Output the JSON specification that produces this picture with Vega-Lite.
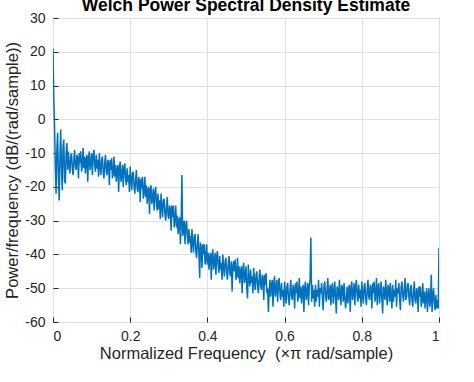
{
 "$schema": "https://vega.github.io/schema/vega-lite/v6.json",
 "width": 386, "height": 304,
 "autosize": "none",
 "padding": {"left": 53, "top": 18, "right": 35, "bottom": 60},
 "background": "white",
 "title": {"text": "Welch Power Spectral Density Estimate", "font": "Liberation Sans", "fontSize": 17.5, "fontWeight": "bold", "color": "#000000", "anchor": "middle", "offset": 7, "dy": 10},
 "config": {
  "view": {"stroke": "#262626", "strokeWidth": 1},
  "axis": {"domain": false, "grid": true, "gridColor": "#dfdfdf", "tickColor": "#262626", "tickSize": -5, "labelFont": "Liberation Sans", "labelFontSize": 14, "labelColor": "#262626", "titleFont": "Liberation Sans", "titleFontSize": 16.5, "titleFontWeight": "normal", "titleColor": "#262626"}
 },
 "data": {"values": [
  {"f":0,"p":21},{"f":0.002,"p":6.5},
  {"f":0.004,"p":-2},{"f":0.006,"p":-14},{"f":0.008,"p":-22},{"f":0.01,"p":-9},{"f":0.012,"p":-4},{"f":0.014,"p":-17},{"f":0.016,"p":-24},{"f":0.018,"p":-11},{"f":0.02,"p":-3},{"f":0.022,"p":-15},{"f":0.024,"p":-21},{"f":0.026,"p":-8},{"f":0.028,"p":-6},{"f":0.03,"p":-18},{"f":0.032,"p":-19},{"f":0.034,"p":-10},{"f":0.036,"p":-7},{"f":0.038,"p":-15},
  {"f":0.04,"p":-9.5},{"f":0.042,"p":-13.5},{"f":0.044,"p":-16},{"f":0.046,"p":-11},{"f":0.048,"p":-10},{"f":0.05,"p":-14.5},{"f":0.052,"p":-16.5},{"f":0.054,"p":-12},{"f":0.056,"p":-9},{"f":0.058,"p":-14},
  {"f":0.06,"p":-15},{"f":0.062,"p":-10.5},{"f":0.064,"p":-11.5},{"f":0.066,"p":-17.5},{"f":0.068,"p":-10},{"f":0.07,"p":-13},{"f":0.072,"p":-9.5},{"f":0.074,"p":-15.5},{"f":0.076,"p":-13.5},{"f":0.078,"p":-8.5},
  {"f":0.08,"p":-14.5},{"f":0.082,"p":-11},{"f":0.084,"p":-16},{"f":0.086,"p":-12},{"f":0.088,"p":-10.5},{"f":0.09,"p":-18.5},{"f":0.092,"p":-11.5},{"f":0.094,"p":-9.5},{"f":0.096,"p":-15},{"f":0.098,"p":-13},
  {"f":0.1,"p":-10},{"f":0.102,"p":-16.5},{"f":0.104,"p":-11},{"f":0.106,"p":-9},{"f":0.108,"p":-13.5},{"f":0.11,"p":-15.5},{"f":0.112,"p":-10.5},{"f":0.114,"p":-14.5},{"f":0.116,"p":-12},{"f":0.118,"p":-17},
  {"f":0.12,"p":-10},{"f":0.122,"p":-14},{"f":0.124,"p":-16.5},{"f":0.126,"p":-12},{"f":0.128,"p":-11},{"f":0.13,"p":-15.5},{"f":0.132,"p":-17.5},{"f":0.134,"p":-13},{"f":0.136,"p":-10.5},{"f":0.138,"p":-15.5},
  {"f":0.14,"p":-16.5},{"f":0.142,"p":-12},{"f":0.144,"p":-13},{"f":0.146,"p":-19.5},{"f":0.148,"p":-12},{"f":0.15,"p":-15},{"f":0.152,"p":-11.5},{"f":0.154,"p":-17.5},{"f":0.156,"p":-16},{"f":0.158,"p":-11},
  {"f":0.16,"p":-17},{"f":0.162,"p":-13.5},{"f":0.164,"p":-18.5},{"f":0.166,"p":-15},{"f":0.168,"p":-13.5},{"f":0.17,"p":-21.5},{"f":0.172,"p":-14.5},{"f":0.174,"p":-12.5},{"f":0.176,"p":-18.5},{"f":0.178,"p":-16.5},
  {"f":0.18,"p":-13.5},{"f":0.182,"p":-20},{"f":0.184,"p":-14.5},{"f":0.186,"p":-13},{"f":0.188,"p":-17.5},{"f":0.19,"p":-19.5},{"f":0.192,"p":-14.5},{"f":0.194,"p":-18.5},{"f":0.196,"p":-16.5},{"f":0.198,"p":-21.5},
  {"f":0.2,"p":-14},{"f":0.202,"p":-18},{"f":0.204,"p":-21},{"f":0.206,"p":-16},{"f":0.208,"p":-15.5},{"f":0.21,"p":-20},{"f":0.212,"p":-22},{"f":0.214,"p":-18},{"f":0.216,"p":-15},{"f":0.218,"p":-20.5},
  {"f":0.22,"p":-21.5},{"f":0.222,"p":-17},{"f":0.224,"p":-18.5},{"f":0.226,"p":-24.5},{"f":0.228,"p":-17.5},{"f":0.23,"p":-20.5},{"f":0.232,"p":-17},{"f":0.234,"p":-23.5},{"f":0.236,"p":-21.5},{"f":0.238,"p":-17},
  {"f":0.24,"p":-23},{"f":0.242,"p":-19.5},{"f":0.244,"p":-25},{"f":0.246,"p":-21},{"f":0.248,"p":-20},{"f":0.25,"p":-28},{"f":0.252,"p":-21},{"f":0.254,"p":-19.5},{"f":0.256,"p":-25},{"f":0.258,"p":-23.5},
  {"f":0.26,"p":-20.5},{"f":0.262,"p":-27},{"f":0.264,"p":-22},{"f":0.266,"p":-20},{"f":0.268,"p":-25},{"f":0.27,"p":-27},{"f":0.272,"p":-22},{"f":0.274,"p":-26.5},{"f":0.276,"p":-24},{"f":0.278,"p":-29.5},
  {"f":0.28,"p":-22},{"f":0.282,"p":-26},{"f":0.284,"p":-29},{"f":0.286,"p":-24},{"f":0.288,"p":-23.5},{"f":0.29,"p":-28},{"f":0.292,"p":-30},{"f":0.294,"p":-26},{"f":0.296,"p":-23},{"f":0.298,"p":-28.5},
  {"f":0.3,"p":-29.5},{"f":0.302,"p":-25.5},{"f":0.304,"p":-26.5},{"f":0.306,"p":-33},{"f":0.308,"p":-25.5},{"f":0.31,"p":-29},{"f":0.312,"p":-25.5},{"f":0.314,"p":-32},{"f":0.316,"p":-30},{"f":0.318,"p":-25.5},
  {"f":0.32,"p":-32},{"f":0.322,"p":-28.5},{"f":0.324,"p":-34},{"f":0.326,"p":-30},{"f":0.328,"p":-29},{"f":0.33,"p":-37},{"f":0.332,"p":-30.5},{"f":0.334,"p":-16.5},{"f":0.336,"p":-34.5},{"f":0.338,"p":-33},
  {"f":0.34,"p":-30},{"f":0.342,"p":-37},{"f":0.344,"p":-31.5},{"f":0.346,"p":-30},{"f":0.348,"p":-34.5},{"f":0.35,"p":-37},{"f":0.352,"p":-32.5},{"f":0.354,"p":-36.5},{"f":0.356,"p":-34.5},{"f":0.358,"p":-39.5},
  {"f":0.36,"p":-32.5},{"f":0.362,"p":-36.5},{"f":0.364,"p":-39.5},{"f":0.366,"p":-34.5},{"f":0.368,"p":-34},{"f":0.37,"p":-39},{"f":0.372,"p":-41},{"f":0.374,"p":-37},{"f":0.376,"p":-34},{"f":0.378,"p":-39.5},
  {"f":0.38,"p":-47},{"f":0.382,"p":-36.5},{"f":0.384,"p":-38},{"f":0.386,"p":-44},{"f":0.388,"p":-37},{"f":0.39,"p":-40},{"f":0.392,"p":-37},{"f":0.394,"p":-43},{"f":0.396,"p":-41.5},{"f":0.398,"p":-37},
  {"f":0.4,"p":-43},{"f":0.402,"p":-39.5},{"f":0.404,"p":-44.5},{"f":0.406,"p":-41},{"f":0.408,"p":-39.5},{"f":0.41,"p":-47.5},{"f":0.412,"p":-40.5},{"f":0.414,"p":-38.5},{"f":0.416,"p":-44.5},{"f":0.418,"p":-42.5},
  {"f":0.42,"p":-39.5},{"f":0.422,"p":-46},{"f":0.424,"p":-40.5},{"f":0.426,"p":-39},{"f":0.428,"p":-43.5},{"f":0.43,"p":-45.5},{"f":0.432,"p":-40.5},{"f":0.434,"p":-44.5},{"f":0.436,"p":-42.5},{"f":0.438,"p":-47.5},
  {"f":0.44,"p":-40},{"f":0.442,"p":-44},{"f":0.444,"p":-46.5},{"f":0.446,"p":-42},{"f":0.448,"p":-41},{"f":0.45,"p":-45.5},{"f":0.452,"p":-47.5},{"f":0.454,"p":-43},{"f":0.456,"p":-40.5},{"f":0.458,"p":-45.5},
  {"f":0.46,"p":-46.5},{"f":0.462,"p":-42},{"f":0.464,"p":-51},{"f":0.466,"p":-43.5},{"f":0.468,"p":-42},{"f":0.47,"p":-45},{"f":0.472,"p":-41.5},{"f":0.474,"p":-47.5},{"f":0.476,"p":-46},{"f":0.478,"p":-41},
  {"f":0.48,"p":-47},{"f":0.482,"p":-43.5},{"f":0.484,"p":-48.5},{"f":0.486,"p":-45},{"f":0.488,"p":-43.5},{"f":0.49,"p":-51.5},{"f":0.492,"p":-44.5},{"f":0.494,"p":-42.5},{"f":0.496,"p":-48.5},{"f":0.498,"p":-46.5},
  {"f":0.5,"p":-43.5},{"f":0.502,"p":-50},{"f":0.504,"p":-53},{"f":0.506,"p":-43},{"f":0.508,"p":-47.5},{"f":0.51,"p":-49.5},{"f":0.512,"p":-44.5},{"f":0.514,"p":-48.5},{"f":0.516,"p":-46.5},{"f":0.518,"p":-51.5},
  {"f":0.52,"p":-44},{"f":0.522,"p":-48},{"f":0.524,"p":-50.5},{"f":0.526,"p":-46},{"f":0.528,"p":-45},{"f":0.53,"p":-49.5},{"f":0.532,"p":-51.5},{"f":0.534,"p":-47},{"f":0.536,"p":-44.5},{"f":0.538,"p":-49.5},
  {"f":0.54,"p":-50.5},{"f":0.542,"p":-46},{"f":0.544,"p":-47},{"f":0.546,"p":-53.5},{"f":0.548,"p":-46},{"f":0.55,"p":-49},{"f":0.552,"p":-45.5},{"f":0.554,"p":-51.5},{"f":0.556,"p":-50},{"f":0.558,"p":-57},
  {"f":0.56,"p":-51},{"f":0.562,"p":-47.5},{"f":0.564,"p":-52.5},{"f":0.566,"p":-49},{"f":0.568,"p":-47.5},{"f":0.57,"p":-55.5},{"f":0.572,"p":-48.5},{"f":0.574,"p":-46.5},{"f":0.576,"p":-52.5},{"f":0.578,"p":-50.5},
  {"f":0.58,"p":-47.5},{"f":0.582,"p":-54},{"f":0.584,"p":-48.5},{"f":0.586,"p":-47},{"f":0.588,"p":-51.5},{"f":0.59,"p":-53.5},{"f":0.592,"p":-48.5},{"f":0.594,"p":-52.5},{"f":0.596,"p":-50.5},{"f":0.598,"p":-55.5},
  {"f":0.6,"p":-48},{"f":0.602,"p":-52},{"f":0.604,"p":-54.5},{"f":0.606,"p":-49.5},{"f":0.608,"p":-48.5},{"f":0.61,"p":-53},{"f":0.612,"p":-55},{"f":0.614,"p":-50.5},{"f":0.616,"p":-47.5},{"f":0.618,"p":-52.5},
  {"f":0.62,"p":-53.5},{"f":0.622,"p":-49},{"f":0.624,"p":-50},{"f":0.626,"p":-56},{"f":0.628,"p":-48.5},{"f":0.63,"p":-51.5},{"f":0.632,"p":-48},{"f":0.634,"p":-54},{"f":0.636,"p":-52},{"f":0.638,"p":-47},
  {"f":0.64,"p":-53},{"f":0.642,"p":-49.5},{"f":0.644,"p":-54.5},{"f":0.646,"p":-50.5},{"f":0.648,"p":-49},{"f":0.65,"p":-57},{"f":0.652,"p":-50},{"f":0.654,"p":-48},{"f":0.656,"p":-53.5},{"f":0.658,"p":-51.5},
  {"f":0.66,"p":-48.5},{"f":0.662,"p":-55},{"f":0.664,"p":-49.5},{"f":0.666,"p":-47.5},{"f":0.668,"p":-35},{"f":0.67,"p":-54},{"f":0.672,"p":-49},{"f":0.674,"p":-53},{"f":0.676,"p":-50.5},{"f":0.678,"p":-55.5},
  {"f":0.68,"p":-49},{"f":0.682,"p":-54},{"f":0.684,"p":-50.5},{"f":0.686,"p":-52.5},{"f":0.688,"p":-47.5},{"f":0.69,"p":-55.5},{"f":0.692,"p":-50},{"f":0.694,"p":-51.5},{"f":0.696,"p":-48.5},{"f":0.698,"p":-53},
  {"f":0.7,"p":-56.5},{"f":0.702,"p":-49.5},{"f":0.704,"p":-48},{"f":0.706,"p":-52},{"f":0.708,"p":-54},{"f":0.71,"p":-50.5},{"f":0.712,"p":-47},{"f":0.714,"p":-53.5},{"f":0.716,"p":-52.5},{"f":0.718,"p":-49},
  {"f":0.72,"p":-55},{"f":0.722,"p":-50},{"f":0.724,"p":-48.5},{"f":0.726,"p":-54.5},{"f":0.728,"p":-51.5},{"f":0.73,"p":-48},{"f":0.732,"p":-53},{"f":0.734,"p":-57.5},{"f":0.736,"p":-49.5},{"f":0.738,"p":-50.5},
  {"f":0.74,"p":-53.5},{"f":0.742,"p":-47.5},{"f":0.744,"p":-52},{"f":0.746,"p":-55},{"f":0.748,"p":-49},{"f":0.75,"p":-50},{"f":0.752,"p":-54},{"f":0.754,"p":-48.5},{"f":0.756,"p":-52.5},{"f":0.758,"p":-56},
  {"f":0.76,"p":-53},{"f":0.762,"p":-49.5},{"f":0.764,"p":-54.5},{"f":0.766,"p":-50.5},{"f":0.768,"p":-49},{"f":0.77,"p":-57},{"f":0.772,"p":-50},{"f":0.774,"p":-48},{"f":0.776,"p":-53.5},{"f":0.778,"p":-51.5},
  {"f":0.78,"p":-48.5},{"f":0.782,"p":-55},{"f":0.784,"p":-49.5},{"f":0.786,"p":-47.5},{"f":0.788,"p":-52},{"f":0.79,"p":-54},{"f":0.792,"p":-49},{"f":0.794,"p":-53},{"f":0.796,"p":-50.5},{"f":0.798,"p":-55.5},
  {"f":0.8,"p":-48},{"f":0.802,"p":-52},{"f":0.804,"p":-54.5},{"f":0.806,"p":-49.5},{"f":0.808,"p":-48.5},{"f":0.81,"p":-53},{"f":0.812,"p":-55},{"f":0.814,"p":-50.5},{"f":0.816,"p":-47.5},{"f":0.818,"p":-52.5},
  {"f":0.82,"p":-53.5},{"f":0.822,"p":-49},{"f":0.824,"p":-50},{"f":0.826,"p":-56},{"f":0.828,"p":-48.5},{"f":0.83,"p":-51.5},{"f":0.832,"p":-48},{"f":0.834,"p":-54},{"f":0.836,"p":-52},{"f":0.838,"p":-47},
  {"f":0.84,"p":-55},{"f":0.842,"p":-50},{"f":0.844,"p":-48.5},{"f":0.846,"p":-54.5},{"f":0.848,"p":-51.5},{"f":0.85,"p":-48},{"f":0.852,"p":-53},{"f":0.854,"p":-57.5},{"f":0.856,"p":-49.5},{"f":0.858,"p":-50.5},
  {"f":0.86,"p":-53.5},{"f":0.862,"p":-47.5},{"f":0.864,"p":-52},{"f":0.866,"p":-55},{"f":0.868,"p":-49},{"f":0.87,"p":-50},{"f":0.872,"p":-54},{"f":0.874,"p":-48.5},{"f":0.876,"p":-52.5},{"f":0.878,"p":-56},
  {"f":0.88,"p":-49},{"f":0.882,"p":-54},{"f":0.884,"p":-50.5},{"f":0.886,"p":-52.5},{"f":0.888,"p":-47.5},{"f":0.89,"p":-55.5},{"f":0.892,"p":-50},{"f":0.894,"p":-51.5},{"f":0.896,"p":-48.5},{"f":0.898,"p":-53},
  {"f":0.9,"p":-56.5},{"f":0.902,"p":-49.5},{"f":0.904,"p":-48},{"f":0.906,"p":-52},{"f":0.908,"p":-54},{"f":0.91,"p":-50.5},{"f":0.912,"p":-47},{"f":0.914,"p":-53.5},{"f":0.916,"p":-52.5},{"f":0.918,"p":-49},
  {"f":0.92,"p":-48.5},{"f":0.922,"p":-52.5},{"f":0.924,"p":-55},{"f":0.926,"p":-50},{"f":0.928,"p":-49},{"f":0.93,"p":-53.5},{"f":0.932,"p":-55.5},{"f":0.934,"p":-51},{"f":0.936,"p":-48},{"f":0.938,"p":-53.5},
  {"f":0.94,"p":-54.5},{"f":0.942,"p":-50},{"f":0.944,"p":-51},{"f":0.946,"p":-57},{"f":0.948,"p":-49.5},{"f":0.95,"p":-52.5},{"f":0.952,"p":-49.5},{"f":0.954,"p":-55.5},{"f":0.956,"p":-53.5},{"f":0.958,"p":-48.5},
  {"f":0.96,"p":-54.5},{"f":0.962,"p":-51},{"f":0.964,"p":-56},{"f":0.966,"p":-52.5},{"f":0.968,"p":-50},{"f":0.97,"p":-57},{"f":0.972,"p":-52},{"f":0.974,"p":-50},{"f":0.976,"p":-55.5},{"f":0.978,"p":-54},
  {"f":0.98,"p":-46},{"f":0.982,"p":-57},{"f":0.984,"p":-52},{"f":0.986,"p":-50},{"f":0.988,"p":-54.5},{"f":0.99,"p":-56.5},{"f":0.992,"p":-52},{"f":0.994,"p":-56},{"f":0.996,"p":-53.5},{"f":0.998,"p":-56},
  {"f":1,"p":-38}
 ]},
 "mark": {"type": "line", "color": "#0072BD", "strokeWidth": 1.5, "clip": true},
 "encoding": {
  "x": {"field": "f", "type": "quantitative", "scale": {"domain": [0, 1], "nice": false, "zero": false},
        "axis": {"values": [0, 0.2, 0.4, 0.6, 0.8, 1], "labelExpr": "'' + datum.value", "labelPadding": 12, "title": "Normalized Frequency \u00a0(×π rad/sample)", "titlePadding": 2}},
  "y": {"field": "p", "type": "quantitative", "scale": {"domain": [-60, 30], "nice": false, "zero": false},
        "axis": {"values": [-60, -50, -40, -30, -20, -10, 0, 10, 20, 30], "labelExpr": "'' + datum.value", "labelPadding": 13, "title": "Power/frequency (dB/(rad/sample))", "titlePadding": 4}}
 }
}
